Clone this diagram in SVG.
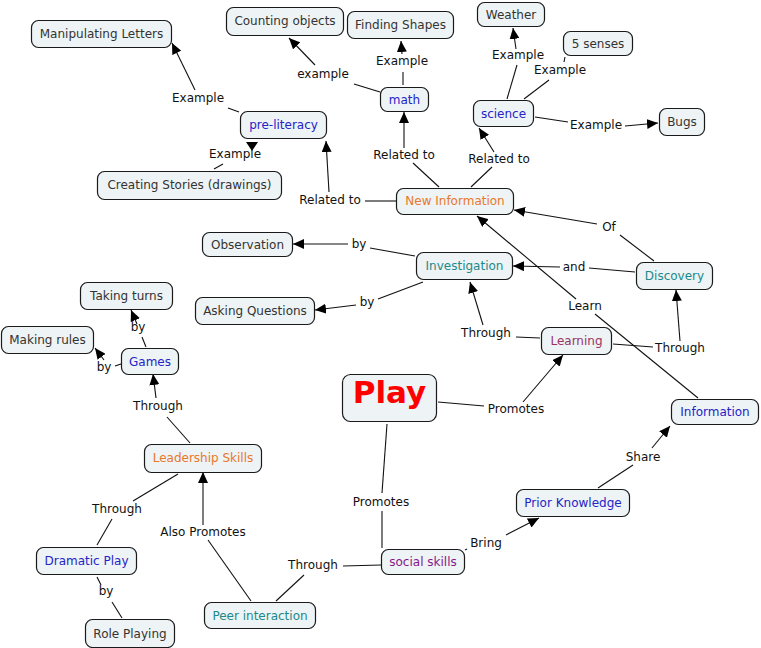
<svg xmlns="http://www.w3.org/2000/svg" width="761" height="648" viewBox="0 0 761 648">
<style>
.n rect{fill:#eef3f5;stroke:#1a1a1a;stroke-width:1.2}
.n text{font-family:"DejaVu Sans",Verdana,sans-serif;font-size:12px;text-anchor:middle;fill:#333}
.blue text{fill:#2424c8}
.orange text{fill:#e8782a}
.teal text{fill:#1b8a8a}
.maroon text{fill:#993366}
.purple text{fill:#85178a}
#c line{stroke:#111;stroke-width:1.1}
#c line.a{marker-end:url(#ah)}
#c text{font-family:"DejaVu Sans",Verdana,sans-serif;font-size:12px;text-anchor:middle;fill:#111}
</style>
<defs>
<marker id="ah" markerUnits="userSpaceOnUse" markerWidth="12" markerHeight="10" refX="11" refY="5" orient="auto">
<path d="M0,0 L11,5 L0,10 z" fill="#000"/>
</marker>
</defs>
<rect width="761" height="648" fill="#fff"/>
<g id="c">
<line x1="239" y1="112" x2="228" y2="108"/><line class="a" x1="195" y1="90" x2="172" y2="43"/><text x="198" y="102">Example</text>
<polygon points="246,142 258,142 252,151" fill="#000"/><line x1="223" y1="164" x2="214" y2="169"/><text x="235" y="158">Example</text>
<line x1="380" y1="92" x2="354" y2="84"/><line class="a" x1="315" y1="65" x2="289" y2="38"/><text x="323" y="78">example</text>
<line x1="403" y1="85" x2="403" y2="72"/><line class="a" x1="402" y1="54" x2="401" y2="41"/><text x="402" y="65">Example</text>
<line x1="507" y1="99" x2="517" y2="65"/><line class="a" x1="516" y1="49" x2="513" y2="28"/><text x="518" y="59">Example</text>
<line x1="524" y1="99" x2="549" y2="80"/><line x1="564" y1="62" x2="565" y2="57"/><text x="560" y="74">Example</text>
<line x1="535" y1="117" x2="568" y2="122"/><line class="a" x1="625" y1="126" x2="658" y2="123"/><text x="596" y="129">Example</text>
<line x1="439" y1="187" x2="413" y2="163"/><line class="a" x1="404" y1="148" x2="404" y2="112"/><text x="404" y="159">Related to</text>
<line x1="471" y1="187" x2="492" y2="167"/><line class="a" x1="494" y1="152" x2="479" y2="128"/><text x="499" y="163">Related to</text>
<line x1="396" y1="201" x2="365" y2="201"/><line class="a" x1="329" y1="192" x2="326" y2="141"/><text x="330" y="204">Related to</text>
<line x1="654" y1="261" x2="620" y2="235"/><line class="a" x1="597" y1="224" x2="514" y2="210"/><text x="609" y="231">Of</text>
<line x1="698" y1="398" x2="595" y2="314"/><line class="a" x1="576" y1="299" x2="477" y2="216"/><text x="585" y="310">Learn</text>
<line x1="635" y1="272" x2="589" y2="268"/><line class="a" x1="560" y1="267" x2="513" y2="266"/><text x="574" y="271">and</text>
<line x1="415" y1="256" x2="370" y2="248"/><line class="a" x1="348" y1="244" x2="293" y2="244"/><text x="359" y="248">by</text>
<line x1="423" y1="282" x2="378" y2="299"/><line class="a" x1="356" y1="305" x2="315" y2="310"/><text x="367" y="306">by</text>
<line x1="540" y1="338" x2="516" y2="337"/><line class="a" x1="483" y1="325" x2="470" y2="282"/><text x="486" y="337">Through</text>
<line x1="613" y1="344" x2="653" y2="347"/><line class="a" x1="680" y1="341" x2="676" y2="290"/><text x="680" y="352">Through</text>
<line x1="438" y1="402" x2="484" y2="406"/><line class="a" x1="523" y1="402" x2="563" y2="355"/><text x="516" y="413">Promotes</text>
<line x1="387" y1="424" x2="382" y2="493"/><line x1="382" y1="511" x2="382" y2="548"/><text x="381" y="506">Promotes</text>
<line x1="465" y1="550" x2="467" y2="549"/><line class="a" x1="506" y1="535" x2="539" y2="518"/><text x="486" y="547">Bring</text>
<line x1="598" y1="488" x2="633" y2="465"/><line class="a" x1="652" y1="448" x2="670" y2="426"/><text x="643" y="461">Share</text>
<line x1="178" y1="474" x2="133" y2="501"/><line x1="112" y1="519" x2="97" y2="545"/><text x="117" y="513">Through</text>
<line x1="97" y1="577" x2="101" y2="585"/><line x1="112" y1="602" x2="122" y2="618"/><text x="106" y="595">by</text>
<line x1="251" y1="601" x2="208" y2="540"/><line class="a" x1="203" y1="525" x2="203" y2="472"/><text x="203" y="536">Also Promotes</text>
<line x1="276" y1="601" x2="304" y2="575"/><line x1="343" y1="566" x2="381" y2="565"/><text x="313" y="569">Through</text>
<line x1="190" y1="443" x2="167" y2="417"/><line class="a" x1="156" y1="398" x2="153" y2="374"/><text x="158" y="410">Through</text>
<line x1="146" y1="347" x2="142" y2="337"/><line class="a" x1="137" y1="324" x2="131" y2="310"/><text x="138" y="331">by</text>
<line x1="121" y1="364" x2="115" y2="366"/><line class="a" x1="104" y1="360" x2="95" y2="348"/><text x="104" y="371">by</text>
</g>
<g id="manip" class="n"><rect x="31.5" y="20.5" width="140" height="27" rx="7"/><text x="101.5" y="38">Manipulating Letters</text></g>
<g id="counting" class="n"><rect x="226.5" y="7.5" width="117" height="28" rx="7"/><text x="285" y="25">Counting objects</text></g>
<g id="shapes" class="n"><rect x="347.5" y="11.5" width="106" height="27" rx="7"/><text x="400.5" y="29">Finding Shapes</text></g>
<g id="weather" class="n"><rect x="477.5" y="2.5" width="67" height="24" rx="7"/><text x="511" y="19">Weather</text></g>
<g id="senses" class="n"><rect x="563.5" y="31.5" width="69" height="24" rx="7"/><text x="598" y="48">5 senses</text></g>
<g id="math" class="n blue"><rect x="380.5" y="87.5" width="48" height="24" rx="7"/><text x="404.5" y="104">math</text></g>
<g id="science" class="n blue"><rect x="473.5" y="100.5" width="60" height="26" rx="7"/><text x="503.5" y="118">science</text></g>
<g id="bugs" class="n"><rect x="659.5" y="108.5" width="45" height="27" rx="7"/><text x="682" y="126">Bugs</text></g>
<g id="preliteracy" class="n blue"><rect x="240.5" y="111.5" width="86" height="27" rx="7"/><text x="283.5" y="129">pre-literacy</text></g>
<g id="stories" class="n"><rect x="97.5" y="171.5" width="184" height="28" rx="7"/><text x="189.5" y="189">Creating Stories (drawings)</text></g>
<g id="newinfo" class="n orange"><rect x="396.5" y="188.5" width="117" height="26" rx="7"/><text x="455" y="205">New Information</text></g>
<g id="observation" class="n"><rect x="202.5" y="232.5" width="90" height="24" rx="7"/><text x="247.5" y="248.5">Observation</text></g>
<g id="investigation" class="n teal"><rect x="416.5" y="252.5" width="96" height="27" rx="7"/><text x="464.5" y="269.5">Investigation</text></g>
<g id="discovery" class="n teal"><rect x="636.5" y="262.5" width="76" height="27" rx="7"/><text x="674.5" y="279.5">Discovery</text></g>
<g id="turns" class="n"><rect x="80.5" y="282.5" width="92" height="27" rx="7"/><text x="126.5" y="300">Taking turns</text></g>
<g id="questions" class="n"><rect x="195.5" y="297.5" width="119" height="27" rx="7"/><text x="255" y="315">Asking Questions</text></g>
<g id="rules" class="n"><rect x="1.5" y="326.5" width="92" height="27" rx="7"/><text x="47.5" y="344">Making rules</text></g>
<g id="games" class="n blue"><rect x="121.5" y="348.5" width="57" height="26" rx="7"/><text x="150" y="365.5">Games</text></g>
<g id="learning" class="n maroon"><rect x="541.5" y="327.5" width="70" height="27" rx="7"/><text x="576.5" y="345">Learning</text></g>
<g id="play" class="n"><rect x="342.5" y="374.5" width="94" height="47" rx="8"/><text x="389.5" y="403" style="font-size:31px;font-weight:bold;fill:#ff0000">Play</text></g>
<g id="information" class="n blue"><rect x="671.5" y="399.5" width="87" height="25" rx="7"/><text x="715" y="416">Information</text></g>
<g id="leadership" class="n orange"><rect x="144.5" y="444.5" width="117" height="28" rx="7"/><text x="203" y="462">Leadership Skills</text></g>
<g id="prior" class="n blue"><rect x="516.5" y="489.5" width="113" height="27" rx="7"/><text x="573" y="507">Prior Knowledge</text></g>
<g id="dramatic" class="n blue"><rect x="36.5" y="547.5" width="100" height="27" rx="7"/><text x="86.5" y="565">Dramatic Play</text></g>
<g id="social" class="n purple"><rect x="381.5" y="549.5" width="83" height="25" rx="7"/><text x="423" y="566">social skills</text></g>
<g id="peer" class="n teal"><rect x="204.5" y="602.5" width="111" height="26" rx="7"/><text x="260" y="619.5">Peer interaction</text></g>
<g id="role" class="n"><rect x="85.5" y="619.5" width="89" height="28" rx="7"/><text x="130" y="637.5">Role Playing</text></g>
</svg>
